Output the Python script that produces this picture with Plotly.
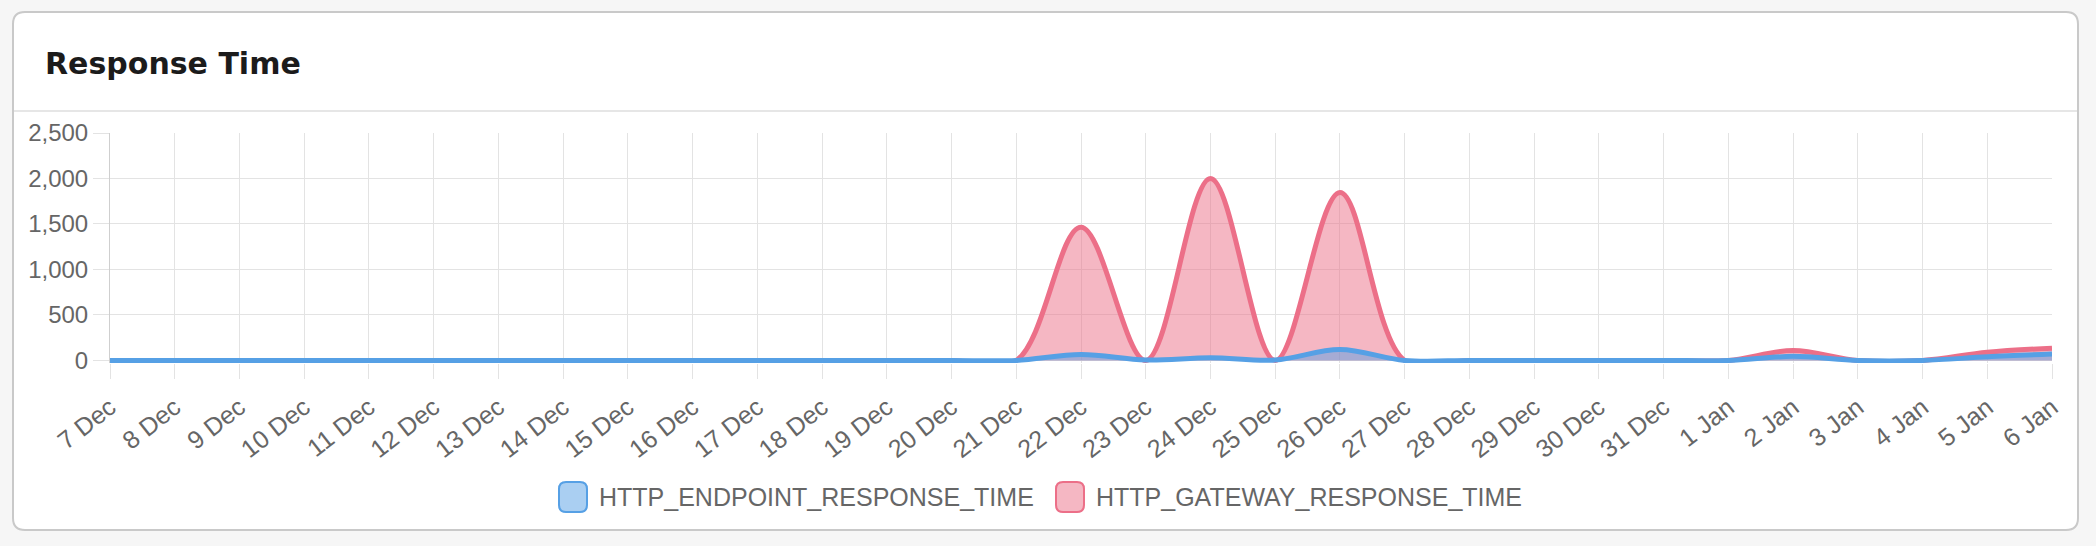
import plotly.graph_objects as go

# ---------------- data ----------------
dates = ["7 Dec", "8 Dec", "9 Dec", "10 Dec", "11 Dec", "12 Dec", "13 Dec", "14 Dec",
         "15 Dec", "16 Dec", "17 Dec", "18 Dec", "19 Dec", "20 Dec", "21 Dec", "22 Dec",
         "23 Dec", "24 Dec", "25 Dec", "26 Dec", "27 Dec", "28 Dec", "29 Dec", "30 Dec",
         "31 Dec", "1 Jan", "2 Jan", "3 Jan", "4 Jan", "5 Jan", "6 Jan"]
endpoint = [0, 0, 0, 0, 0, 0, 0, 0, 0, 0, 0, 0, 0, 0, 0, 65,
            5, 30, 5, 120, 0, 0, 0, 0, 0, 0, 45, 0, 0, 40, 70]
gateway = [0, 0, 0, 0, 0, 0, 0, 0, 0, 0, 0, 0, 0, 0, 0, 1465,
           0, 2000, 0, 1845, 0, 0, 0, 0, 0, 0, 110, 0, 0, 90, 135]
series_names = ["HTTP_ENDPOINT_RESPONSE_TIME", "HTTP_GATEWAY_RESPONSE_TIME"]
title_text = "Response Time"

# ---------------- geometry ----------------
FW, FH = 2096, 546
L, R, T, B = 110, 44, 133, 183
W = FW - L - R
H = FH - T - B


def px(x):
    return (x - L) / W


def py(y):
    return (FH - B - y) / H


def rounded_rect(x0, y0, x1, y1, r):
    pts = []
    pts.append("M%f,%f" % (px(x0 + r), py(y0)))
    pts.append("L%f,%f" % (px(x1 - r), py(y0)))
    pts.append("Q%f,%f %f,%f" % (px(x1), py(y0), px(x1), py(y0 + r)))
    pts.append("L%f,%f" % (px(x1), py(y1 - r)))
    pts.append("Q%f,%f %f,%f" % (px(x1), py(y1), px(x1 - r), py(y1)))
    pts.append("L%f,%f" % (px(x0 + r), py(y1)))
    pts.append("Q%f,%f %f,%f" % (px(x0), py(y1), px(x0), py(y1 - r)))
    pts.append("L%f,%f" % (px(x0), py(y0 + r)))
    pts.append("Q%f,%f %f,%f" % (px(x0), py(y0), px(x0 + r), py(y0)))
    pts.append("Z")
    return " ".join(pts)


BLUE = "#56A0E5"
BLUE_FILL = "rgba(86,160,229,0.5)"
RED = "#EC6F88"
RED_FILL = "rgba(236,111,136,0.5)"
TXT = "#666666"
FONT = "Liberation Sans, Arial, sans-serif"

fig = go.Figure()
fig.add_trace(go.Scatter(
    x=dates, y=gateway, name=series_names[1], mode="lines",
    line=dict(color=RED, width=5, shape="spline", smoothing=1.0),
    fill="tozeroy", fillcolor=RED_FILL, showlegend=False, hoverinfo="skip"))
fig.add_trace(go.Scatter(
    x=dates, y=endpoint, name=series_names[0], mode="lines",
    line=dict(color=BLUE, width=5, shape="spline", smoothing=1.0),
    fill="tozeroy", fillcolor=BLUE_FILL, showlegend=False, hoverinfo="skip"))

shapes = []
# card
shapes.append(dict(type="path", xref="paper", yref="paper", layer="below",
                   path=rounded_rect(13, 12, 2078, 530, 12),
                   fillcolor="white", line=dict(color="#c9c9c9", width=2)))
# header divider
shapes.append(dict(type="line", xref="paper", yref="paper", layer="below",
                   x0=px(14), x1=px(2077), y0=py(111), y1=py(111),
                   line=dict(color="#e6e6e6", width=2)))

annotations = [dict(text="<b>" + title_text + "</b>", xref="paper", yref="paper",
                    x=px(43), y=py(64), xanchor="left", yanchor="middle",
                    showarrow=False, font=dict(family="DejaVu Sans, sans-serif",
                                               size=30, color="#1b1b1b"))]

# custom legend
leg = [(559, 1056), (597, 1094)]
cols = [(BLUE, BLUE_FILL), (RED, RED_FILL)]
for i in range(2):
    bx = leg[0][i]
    shapes.append(dict(type="path", xref="paper", yref="paper",
                       path=rounded_rect(bx, 482, bx + 28, 512, 7),
                       fillcolor=cols[i][1], line=dict(color=cols[i][0], width=2)))
    annotations.append(dict(text=series_names[i], xref="paper", yref="paper",
                            x=px(leg[1][i]), y=py(497), xanchor="left", yanchor="middle",
                            showarrow=False, font=dict(family=FONT, size=25, color=TXT)))

fig.update_layout(
    width=FW, height=FH,
    margin=dict(l=L, r=R, t=T, b=B, pad=0),
    paper_bgcolor="#f6f6f6", plot_bgcolor="rgba(0,0,0,0)",
    shapes=shapes, annotations=annotations,
    showlegend=False,
    xaxis=dict(type="category", range=[0, len(dates) - 1], showgrid=True,
               gridcolor="#e3e3e3", gridwidth=1, ticks="outside", ticklen=15,
               tickcolor="#e3e3e3", tickangle=-38, ticklabelstandoff=4,
               tickfont=dict(family=FONT, size=25, color=TXT), showline=False,
               zeroline=False),
    yaxis=dict(range=[-28, 2500], tick0=0, dtick=500, tickformat=",",
               showgrid=True, gridcolor="#e3e3e3", gridwidth=1,
               ticks="outside", ticklen=16, tickcolor="#e3e3e3",
               showline=True, linecolor="#cfcfcf", linewidth=1,
               zeroline=False, tickfont=dict(family=FONT, size=24, color=TXT)),
)

fig.write_html("out.html", config={"displayModeBar": False},
               post_script="document.body.style.margin='0';")
